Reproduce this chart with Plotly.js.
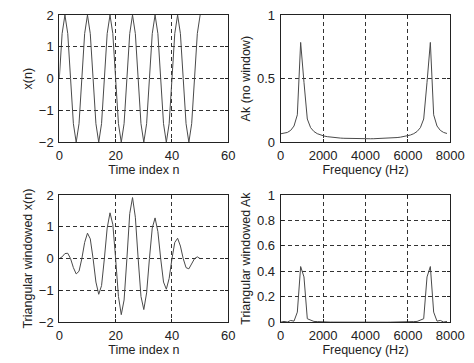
<!DOCTYPE html>
<html>
<head>
<meta charset="utf-8">
<script src="https://cdn.plot.ly/plotly-3.0.1.min.js"></script>
<style>html,body{margin:0;padding:0;background:#fff;}#chart{width:474px;height:363px;}</style>
</head>
<body>
<div id="chart"></div>
<script>
// Sample rate and DFT length
var fs = 8000;
var N = 51;

// Time index n = 0..50
var n = [];
for (var i = 0; i < N; i++) n.push(i);

// x(n): sampled sinusoid
var xn = [0, 1.4142, 2, 1.4142, 0, -1.4142, -2, -1.4142,
  0, 1.4142, 2, 1.4142, 0, -1.4142, -2, -1.4142,
  0, 1.4142, 2, 1.4142, 0, -1.4142, -2, -1.4142,
  0, 1.4142, 2, 1.4142, 0, -1.4142, -2, -1.4142,
  0, 1.4142, 2, 1.4142, 0, -1.4142, -2, -1.4142,
  0, 1.4142, 2, 1.4142, 0, -1.4142, -2, -1.4142,
  0, 1.4142, 2];

// Triangular windowed x(n)
var xw = [0, 0.0566, 0.16, 0.1697, 0, -0.2828, -0.48, -0.396,
  0, 0.5091, 0.8, 0.6223, 0, -0.7354, -1.12, -0.8485,
  0, 0.9617, 1.44, 1.0748, 0, -1.1879, -1.76, -1.3011,
  0, 1.4142, 1.92, 1.3011, 0, -1.1879, -1.6, -1.0748,
  0, 0.9617, 1.28, 0.8485, 0, -0.7354, -0.96, -0.6223,
  0, 0.5091, 0.64, 0.396, 0, -0.2828, -0.32, -0.1697,
  0, 0.0566, 0];

// Ak (no window), k = 0..50
var akNoWin = [0.0669, 0.0693, 0.0773, 0.0938, 0.1279, 0.2160, 0.7847, 0.4713,
  0.1828, 0.1147, 0.0846, 0.0677, 0.0570, 0.0496, 0.0443, 0.0404,
  0.0373, 0.0349, 0.0330, 0.0315, 0.0304, 0.0294, 0.0287, 0.0282,
  0.0279, 0.0278, 0.0278, 0.0279, 0.0282, 0.0287, 0.0294, 0.0304,
  0.0315, 0.0330, 0.0349, 0.0373, 0.0404, 0.0443, 0.0496, 0.0570,
  0.0677, 0.0846, 0.1147, 0.1828, 0.4713, 0.7847, 0.2160, 0.1279,
  0.0938, 0.0773, 0.0693];

// Triangular windowed Ak, k = 0..50
var akTri = [0.0011, 0.0071, 0.0022, 0.0146, 0.0090, 0.0800, 0.4380, 0.3565,
  0.0280, 0.0186, 0.0067, 0.0056, 0.0032, 0.0026, 0.0021, 0.0016,
  0.0015, 0.0011, 0.0012, 0.0009, 0.0010, 0.0008, 0.0009, 0.0008,
  0.0008, 0.0008, 0.0008, 0.0008, 0.0008, 0.0009, 0.0008, 0.0010,
  0.0009, 0.0012, 0.0011, 0.0015, 0.0016, 0.0021, 0.0026, 0.0032,
  0.0056, 0.0067, 0.0186, 0.0280, 0.3565, 0.4380, 0.0800, 0.0090,
  0.0146, 0.0022, 0.0071];

// Frequency of each DFT bin
var freq = n.map(function (k) { return k * fs / N; });

// Axis labels
var xTimeTitle = 'Time index n';
var xFreqTitle = 'Frequency (Hz)';
var yTitles = ['x(n)', 'Ak (no window)', 'Triangular windowed x(n)', 'Triangular windowed Ak'];

var lineColor = '#4a4a4a';
var fontFam = '"Liberation Sans", Arial, Helvetica, sans-serif';

function tr(x, y, xa, ya) {
  return {x: x, y: y, xaxis: xa, yaxis: ya, type: 'scatter', mode: 'lines',
    line: {color: lineColor, width: 1}, hoverinfo: 'skip', showlegend: false};
}

var data = [
  tr(n, xn, 'x', 'y'),
  tr(freq, akNoWin, 'x2', 'y2'),
  tr(n, xw, 'x3', 'y3'),
  tr(freq, akTri, 'x4', 'y4')
];

function xax(dom, rng, dt, title, anchor) {
  return {domain: dom, range: rng, dtick: dt, tick0: 0, anchor: anchor,
    showline: true, mirror: 'ticks', linecolor: '#222', linewidth: 1,
    ticks: 'inside', ticklen: 3, tickcolor: '#222', ticklabelstandoff: 1,
    showgrid: true, gridcolor: '#333', gridwidth: 1, griddash: '4px,3px',
    zeroline: false, tickfont: {size: 13, color: '#222', family: fontFam},
    title: {text: title, font: {size: 12.5, color: '#222', family: fontFam}, standoff: 1},
    fixedrange: true};
}
function yax(dom, rng, vals, texts, title, anchor) {
  return {domain: dom, range: rng, tickvals: vals, ticktext: texts, anchor: anchor,
    showline: true, mirror: 'ticks', linecolor: '#222', linewidth: 1,
    ticks: 'inside', ticklen: 3, tickcolor: '#222', ticklabelstandoff: 2,
    showgrid: true, gridcolor: '#333', gridwidth: 1, griddash: '4px,3px',
    zeroline: false, tickfont: {size: 13, color: '#222', family: fontFam},
    title: {text: title, font: {size: 12.5, color: '#222', family: fontFam}, standoff: 3},
    fixedrange: true};
}

var xL = [59.3 / 474, 228.3 / 474];
var xR = [280.7 / 474, 450.3 / 474];
var yT = [1 - 142.3 / 363, 1 - 15 / 363];
var yB = [1 - 322.3 / 363, 1 - 195 / 363];

var timeTicks = [-2, -1, 0, 1, 2];
var timeTickText = ['\u22122', '\u22121', '0', '1', '2'];
var ak1Ticks = [0, 0.5, 1];
var ak1TickText = ['0', '0.5', '1'];
var ak2Ticks = [0, 0.2, 0.4, 0.6, 0.8, 1];
var ak2TickText = ['0', '0.2', '0.4', '0.6', '0.8', '1'];

var layout = {
  width: 474, height: 363,
  margin: {l: 0, r: 0, t: 0, b: 0},
  paper_bgcolor: '#fff', plot_bgcolor: '#fff',
  font: {family: fontFam, color: '#222'},
  xaxis: xax(xL, [0, 60], 20, xTimeTitle, 'y'),
  yaxis: yax(yT, [-2, 2], timeTicks, timeTickText, yTitles[0], 'x'),
  xaxis2: xax(xR, [0, 8000], 2000, xFreqTitle, 'y2'),
  yaxis2: yax(yT, [0, 1], ak1Ticks, ak1TickText, yTitles[1], 'x2'),
  xaxis3: xax(xL, [0, 60], 20, xTimeTitle, 'y3'),
  yaxis3: yax(yB, [-2, 2], timeTicks, timeTickText, yTitles[2], 'x3'),
  xaxis4: xax(xR, [0, 8000], 2000, xFreqTitle, 'y4'),
  yaxis4: yax(yB, [0, 1], ak2Ticks, ak2TickText, yTitles[3], 'x4')
};

Plotly.newPlot('chart', data, layout, {displayModeBar: false, staticPlot: true});
</script>
</body>
</html>
